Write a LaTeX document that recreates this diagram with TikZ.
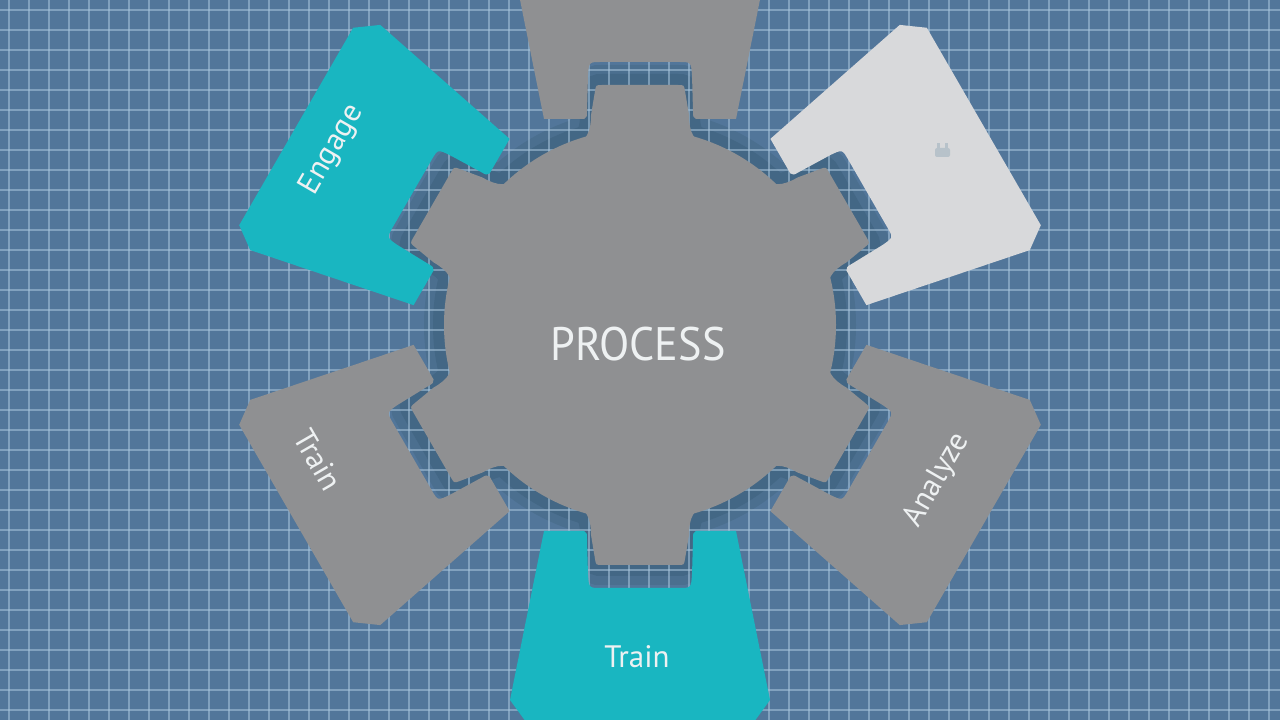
\documentclass[tikz,border=0pt]{standalone}
\usepackage{fontspec}
\usepackage{graphicx}
\newfontfamily\labfont{PT Sans}
\definecolor{bgblue}{HTML}{52769A}
\definecolor{gridc}{HTML}{A9C6DD}
\definecolor{shadowA}{HTML}{4B6F8F}
\definecolor{shadowB}{HTML}{436785}
\definecolor{gearc}{HTML}{8F9092}
\definecolor{segGray}{HTML}{8F9092}
\definecolor{segLight}{HTML}{D8D9DB}
\definecolor{segTeal}{HTML}{19B6C1}
\definecolor{txtc}{HTML}{EEF1F2}
\definecolor{iconc}{HTML}{B7C2CA}
\newcommand{\segoutline}{(-96,206) -- (-56,206) .. controls (-53,208) .. (-53,214) -- (-52,250) .. controls (-51,263) .. (-39,263) -- (39,263) .. controls (51,263) .. (52,250) -- (53,214) .. controls (53,208) .. (56,206) -- (96,206) -- (130,375) -- (114,397) -- (-114,397) -- (-130,375) -- cycle}
\newcommand{\toothoutline}{(-70,176) .. controls (-53,184) and (-49,193) .. (-49,210) -- (-45,234) .. controls (-44,240) .. (-38,240) -- (38,240) .. controls (44,240) .. (45,234) -- (49,210) .. controls (49,193) and (53,184) .. (70,176) -- cycle}
\tikzset{
  lab/.style={text=txtc, font=\labfont\fontsize{31}{31}\selectfont, inner sep=0pt},
  proc/.style={text=txtc, font=\labfont\fontsize{47}{47}\selectfont, inner sep=0pt},
  gridline/.style={draw=gridc, draw opacity=0.55, line width=1.6},
}
\begin{document}
\begin{tikzpicture}[x=1pt,y=1pt]
  \useasboundingbox (0,0) rectangle (1280,720);
  \fill[bgblue] (0,0) rectangle (1280,720);
  \coordinate (gc) at (640,395);
  % gear shadow
  \begin{scope}[shift={(gc)}]
    \draw[shadowA, fill=shadowA, line width=40] (0,0) circle[radius=196];
    \foreach \a in {90,30,-30,-90,-150,150}
      \draw[shadowA, fill=shadowA, line width=40, rotate=\a-90] \toothoutline;
    \draw[shadowB, fill=shadowB, line width=22] (0,0) circle[radius=196];
    \foreach \a in {90,30,-30,-90,-150,150}
      \draw[shadowB, fill=shadowB, line width=22, rotate=\a-90] \toothoutline;
  \end{scope}
  % grid
  \foreach \x in {9,29,...,1279} \draw[gridline] (\x,0) -- (\x,720);
  \foreach \y in {10,30,...,719} \draw[gridline] (0,\y) -- (1280,\y);
  % segments
  \foreach \a/\c in {90/segGray,30/segLight,-30/segGray,-90/segTeal,-150/segGray,150/segTeal}
    \fill[\c, shift={(gc)}, rotate=\a-90] \segoutline;
  % gear
  \begin{scope}[shift={(gc)}]
    \fill[gearc] (0,0) circle[radius=196];
    \foreach \a in {90,30,-30,-90,-150,150}
      \fill[gearc, rotate=\a-90] \toothoutline;
  \end{scope}
  % labels
  \node[proc] (process) at (638,376) {\scalebox{0.94}[1]{PROCESS}};
  \node[lab, rotate=60] (engage) at (332,570) {Engage};
  \node[lab, rotate=-60] (trainL) at (318,260) {Train};
  \node[lab, rotate=60] (analyze) at (937,240) {Analyze};
  \node[lab] (trainB) at (637,63) {Train};
  % small icon on light segment
  \fill[iconc, rounded corners=2pt] (935,563) rectangle (950,572);
  \fill[iconc] (937,572) rectangle (940,577);
  \fill[iconc] (945,572) rectangle (948,577);
\end{tikzpicture}
\end{document}
